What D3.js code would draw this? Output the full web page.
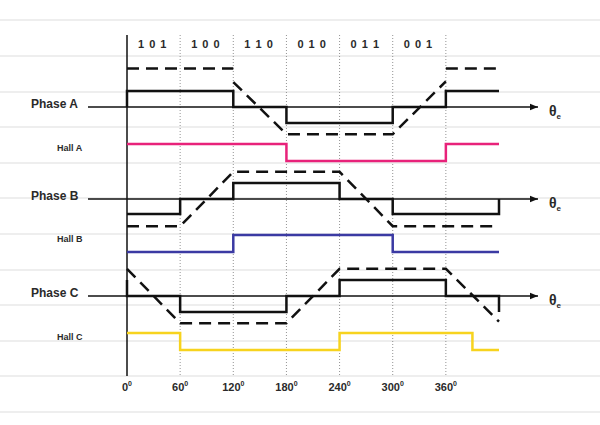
<!DOCTYPE html>
<html lang="en">
<head>
<meta charset="UTF-8">
<style>
  body { margin: 0; background: #fff; }
  text { font-family: "Liberation Sans", Arial, sans-serif; font-weight: bold; fill: #2a2a2a; }
</style>
</head>
<body>
<svg id="chart" width="600" height="425"></svg>
<script src="https://d3js.org/d3.v7.min.js"></script>
<script>
// angle breakpoints and labels
var tickAngles = [0, 60, 120, 180, 240, 300, 360];
var hallCodes = ["1 0 1", "1 0 0", "1 1 0", "0 1 0", "0 1 1", "0 0 1"];
var gridRows = [20, 56, 92, 127, 163, 198, 234, 270, 305, 341, 376, 412];

// phase voltages (solid) and back-EMF (dashed), in units of one step
var phaseA = [[0,0],[0,1],[120,1],[120,0],[180,0],[180,-1],[300,-1],[300,0],[360,0],[360,1],[420,1]];
var emfA = [[[0,2.4],[120,2.4]], [[120,1.56],[180,-1.7],[300,-1.7],[360,1.6]], [[360,2.4],[420,2.4]]];
var phaseB = [[0,-0.94],[60,-0.94],[60,0],[120,0],[120,1],[240,1],[240,0],[300,0],[300,-0.94],[420,-0.94],[420,0]];
var emfB = [[[0,-1.7],[60,-1.7],[120,1.7],[240,1.7],[300,-1.7],[420,-1.7]]];
var phaseC = [[0,1],[0,0],[60,0],[60,-1],[180,-1],[180,0],[240,0],[240,1],[360,1],[360,0],[420,0],[420,-1]];
var emfC = [[[0,1.7],[60,-1.7],[180,-1.7],[240,1.7],[360,1.7],[420,-1.6]]];

// hall sensor signals
var hallA = [[0,1],[180,1],[180,0],[360,0],[360,1],[420,1]];
var hallB = [[0,0],[120,0],[120,1],[300,1],[300,0],[420,0]];
var hallC = [[0,1],[60,1],[60,0],[240,0],[240,1],[390,1],[390,0],[420,0]];

var svg = d3.select("#chart");
var x = d3.scaleLinear().domain([0, 420]).range([127, 499]);

svg.selectAll("line.grid").data(gridRows).enter().append("line")
  .attr("x1", 0).attr("x2", 600).attr("y1", d => d).attr("y2", d => d)
  .attr("stroke", "#ddd").attr("stroke-width", 1);

svg.selectAll("line.div").data(tickAngles.slice(1)).enter().append("line")
  .attr("x1", d => x(d)).attr("x2", d => x(d)).attr("y1", 35).attr("y2", 376)
  .attr("stroke", "#777").attr("stroke-width", 0.8).attr("stroke-dasharray", "1,2");
svg.append("line").attr("x1", x(0)).attr("x2", x(0)).attr("y1", 35).attr("y2", 376)
  .attr("stroke", "#111").attr("stroke-width", 1.5);

svg.selectAll("text.code").data(hallCodes).enter().append("text")
  .attr("x", (d, i) => x(tickAngles[i]) + 11).attr("y", 48)
  .attr("font-size", 11).attr("letter-spacing", 1).text(d => d);

var ticks = svg.selectAll("text.tick").data(tickAngles).enter().append("text")
  .attr("x", d => x(d)).attr("y", 391).attr("font-size", 11).attr("text-anchor", "middle");
ticks.append("tspan").text(d => d);
ticks.append("tspan").attr("font-size", 7).attr("dy", -5).text("0");

svg.append("defs").append("marker").attr("id", "arr").attr("viewBox", "0 0 10 10")
  .attr("refX", 10).attr("refY", 5).attr("markerWidth", 8).attr("markerHeight", 8)
  .attr("markerUnits", "userSpaceOnUse").attr("orient", "auto")
  .append("path").attr("d", "M0,1L10,5L0,9Z").attr("fill", "#111");

var rows = [
  { label: "Phase A", axis: 107, step: 16, solid: phaseA, emf: emfA },
  { label: "Phase B", axis: 199, step: 16, solid: phaseB, emf: emfB },
  { label: "Phase C", axis: 296, step: 16, solid: phaseC, emf: emfC }
];
var halls = [
  { label: "Hall A", base: 161, data: hallA, color: "#e8227a" },
  { label: "Hall B", base: 252, data: hallB, color: "#3b3aa3" },
  { label: "Hall C", base: 350, data: hallC, color: "#f7d31e" }
];

rows.forEach(function(r) {
  var y = d3.scaleLinear().domain([-1, 1]).range([r.axis + r.step, r.axis - r.step]);
  var line = d3.line().x(d => x(d[0])).y(d => y(d[1]));
  svg.append("line").attr("x1", 88).attr("x2", 538).attr("y1", r.axis).attr("y2", r.axis)
    .attr("stroke", "#111").attr("stroke-width", 1.3).attr("marker-end", "url(#arr)");
  svg.append("text").attr("x", 31).attr("y", r.axis + 1).attr("font-size", 12).text(r.label);
  var th = svg.append("text").attr("x", 549).attr("y", r.axis + 9)
    .attr("font-family", "Liberation Serif, serif").attr("font-weight", "normal")
    .attr("font-size", 14);
  th.append("tspan").text("\u03b8");
  th.append("tspan").attr("font-size", 8).attr("dy", 3).text("e");
  r.emf.forEach(function(seg) {
    svg.append("path").attr("d", line(seg)).attr("fill", "none")
      .attr("stroke", "#111").attr("stroke-width", 2.5).attr("stroke-dasharray", "12,7");
  });
  svg.append("path").attr("d", line(r.solid)).attr("fill", "none")
    .attr("stroke", "#111").attr("stroke-width", 2.5);
});

halls.forEach(function(h) {
  var y = d3.scaleLinear().domain([0, 1]).range([h.base, h.base - 17]);
  var line = d3.line().x(d => x(d[0])).y(d => y(d[1]));
  svg.append("text").attr("x", 57).attr("y", h.base - 10).attr("font-size", 9).text(h.label);
  svg.append("path").attr("d", line(h.data)).attr("fill", "none")
    .attr("stroke", h.color).attr("stroke-width", 2.5);
});
</script>
</body>
</html>
